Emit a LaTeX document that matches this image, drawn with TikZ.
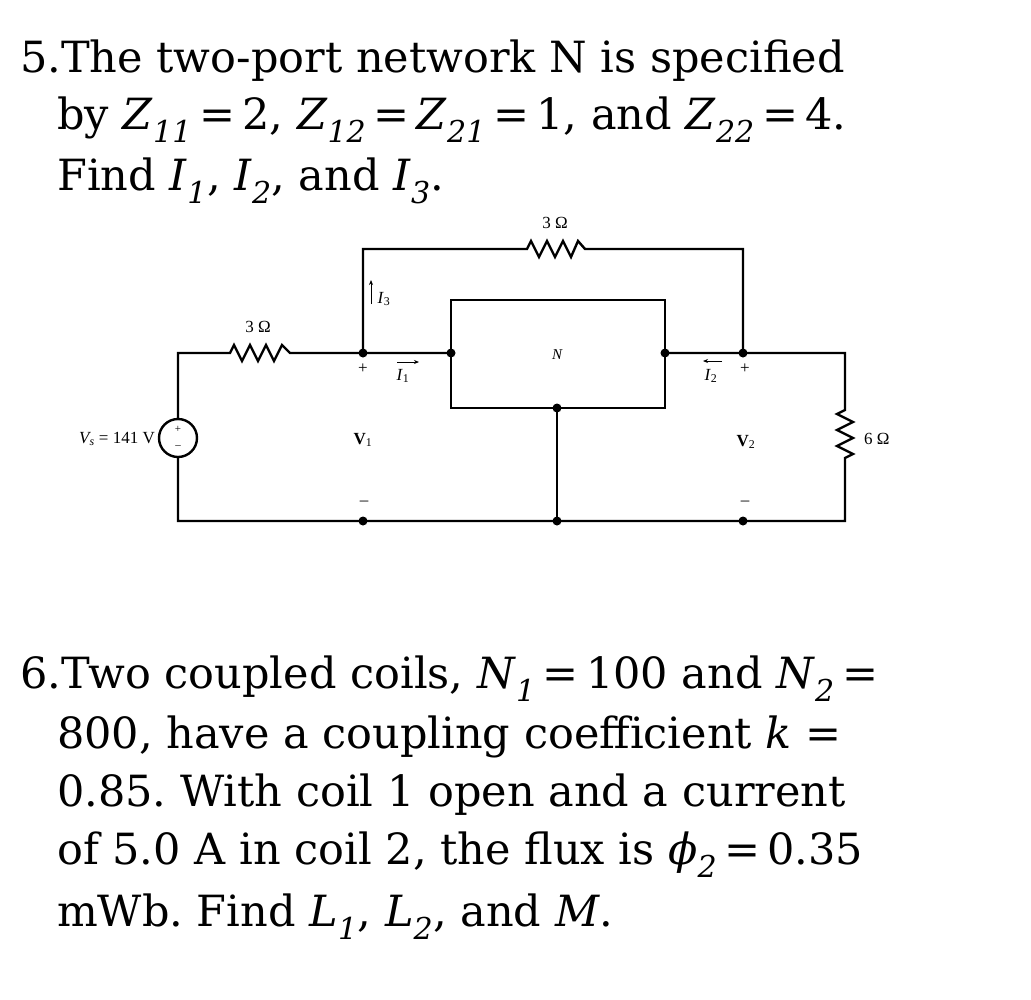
\documentclass[tikz,border=0pt]{standalone}
\usepackage{fontspec}
\setmainfont{DejaVu Serif}
\newfontfamily\circfont{Liberation Serif}
\usetikzlibrary{arrows.meta}
\newcommand{\isub}[1]{\textsubscript{\itshape #1}}
\frenchspacing
\begin{document}
\begin{tikzpicture}[x=1pt,y=-1pt,
  txt/.style={anchor=base west,inner sep=0pt,font=\fontsize{43}{48}\selectfont},
  lbl/.style={inner sep=0pt,font=\circfont\fontsize{17}{18}\selectfont},
  sm/.style={inner sep=0pt,font=\circfont\fontsize{11}{12}\selectfont},
  w/.style={line width=2.4pt},
  dot/.style={circle,fill,inner sep=0pt,minimum size=9pt},
  cur/.style={-{Stealth[length=5pt,width=4pt]},line width=1pt}]
\useasboundingbox (0,0) rectangle (1031,999);
\node[txt] (t1) at (20,72) {5.The two-port network N is specified};
\node[txt] (t2) at (57,129) {by \textit{Z}\isub{11}\,=\,2, \textit{Z}\isub{12}\,=\,\textit{Z}\isub{21}\,=\,1, and \textit{Z}\isub{22}\,=\,4.};
\node[txt] (t3) at (57,190) {Find \textit{I}\isub{1}, \textit{I}\isub{2}, and \textit{I}\isub{3}.};
\node[txt] (u1) at (20,688) {6.Two coupled coils, \textit{N}\isub{1}\,=\,100 and \textit{N}\isub{2}\,=};
\node[txt] (u2) at (57,748) {800, have a coupling coefficient \textit{k} =};
\node[txt] (u3) at (57,806) {0.85. With coil 1 open and a current};
\node[txt] (u4) at (57,864) {of 5.0 A in coil 2, the flux is \textit{ϕ}\isub{2}\,=\,0.35};
\node[txt] (u5) at (57,926) {mWb. Find \textit{L}\isub{1}, \textit{L}\isub{2}, and \textit{M}.};
% coordinates
\coordinate (tl) at (178,353); \coordinate (bl) at (178,521);
\node[circle,draw,line width=2.4pt,minimum size=38pt,inner sep=0pt] (src) at (178,438) {};
\node[sm] at (178,429) {+}; \node[sm] at (178,447) {–};
\coordinate (r1a) at (230,353); \coordinate (r1b) at (290,353);
\node[dot] (A) at (363,353) {}; \node[dot] (Ab) at (363,521) {};
\coordinate (Atop) at (363,249); \coordinate (Btop) at (743,249);
\coordinate (r2a) at (527,249); \coordinate (r2b) at (585,249);
\node[dot] (B) at (743,353) {}; \node[dot] (Bb) at (743,521) {};
\node[dot] (P1) at (451,353) {}; \node[dot] (P2) at (665,353) {}; \node[dot] (P3) at (557,408) {};
\node[dot] (Gb) at (557,521) {};
\coordinate (rt) at (845,353); \coordinate (rb) at (845,521);
\coordinate (r3a) at (845,410); \coordinate (r3b) at (845,466);
\draw[w] (451,300) rectangle (665,408);
\draw[w] (src.north) -- (tl) -- (r1a) -- ++(4,-8) -- ++(8,16) -- ++(8,-16) -- ++(8,16) -- ++(8,-16) -- ++(8,16) -- ++(8,-16) -- (r1b) -- (A.center) -- (P1.center);
\draw[w] (A.center) -- (Atop) -- (r2a) -- ++(4,-8) -- ++(8,16) -- ++(8,-16) -- ++(8,16) -- ++(8,-16) -- ++(8,16) -- ++(7,-16) -- (r2b) -- (Btop) -- (B.center);
\draw[w] (P2.center) -- (B.center) -- (rt) -- (r3a) -- ++(-8,4) -- ++(16,8) -- ++(-16,8) -- ++(16,8) -- ++(-16,8) -- ++(16,8) -- ++(-8,4) -- (r3b) -- (rb) -- (Bb.center) -- (Gb.center) -- (Ab.center) -- (bl) -- (src.south);
\draw[w] (P3.center) -- (Gb.center);
% labels
\node[lbl] at (258,327) {3 Ω};
\node[lbl] at (555,223) {3 Ω};
\node[lbl,anchor=west] at (864,439) {6 Ω};
\node[lbl,anchor=east] at (155,439) {\textit{V\textsubscript{s}} = 141 V};
\node[lbl,font=\circfont\itshape\fontsize{15}{16}\selectfont] at (557,355) {N};
\node[lbl] at (363,369) {+}; \node[lbl] at (745,369) {+};
\node[lbl] at (364,503) {–}; \node[lbl] at (745,503) {–};
\node[lbl] at (363,440) {\textbf{V}\textsubscript{1}};
\node[lbl] at (746,442) {\textbf{V}\textsubscript{2}};
\draw[cur] (397,362) -- (419,362);
\node[lbl] at (403,376) {\textit{I}\textsubscript{1}};
\draw[cur] (722,361) -- (703,361);
\node[lbl] at (711,376) {\textit{I}\textsubscript{2}};
\draw[cur] (371,304) -- (371,280);
\node[lbl] at (384,299) {\textit{I}\textsubscript{3}};
\end{tikzpicture}
\end{document}
